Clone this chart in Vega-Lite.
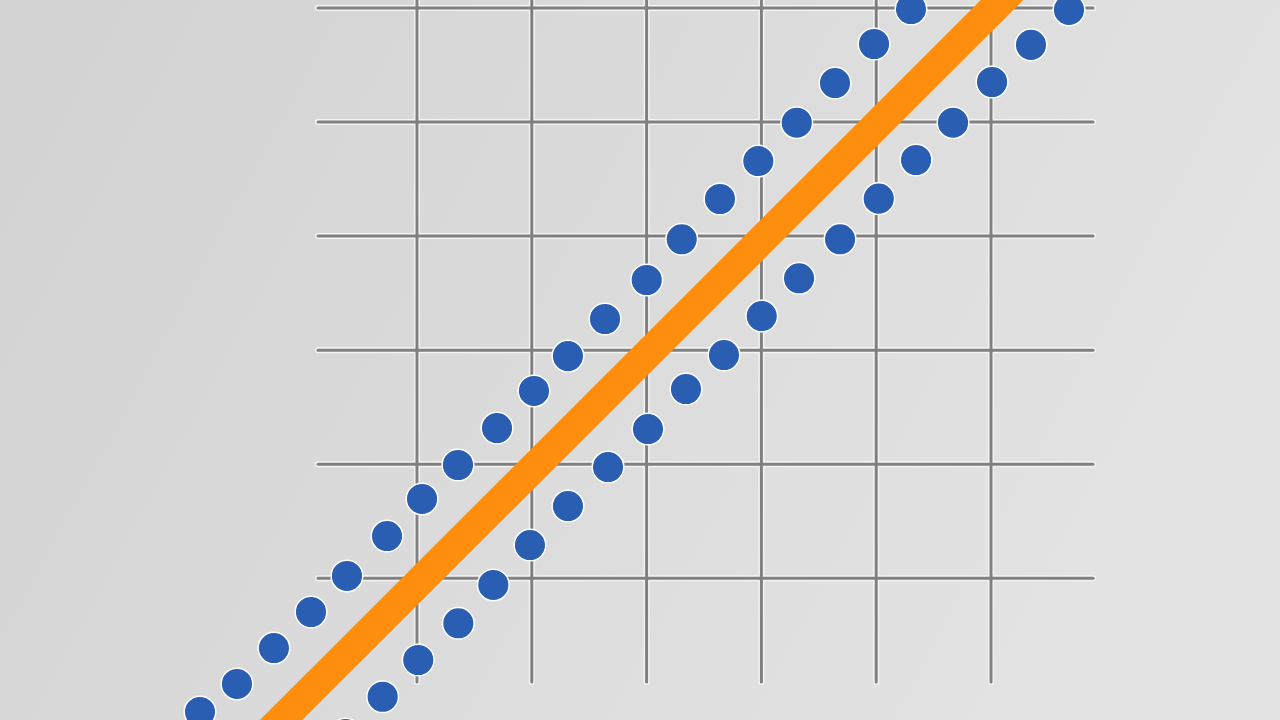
{
  "$schema": "https://vega.github.io/schema/vega-lite/v6.json",
  "width": 1280,
  "height": 720,
  "autosize": {"type": "fit", "contains": "padding"},
  "padding": 0,
  "background": "#dadada",
  "config": {"view": {"stroke": null}},
  "datasets": {
    "backdrop": [{"x": -2.632, "x2": 8.517, "y": -0.243, "y2": 6.07}],
    "hgrid": [
      {"y": 1, "x": 0.138, "x2": 6.889},
      {"y": 2, "x": 0.138, "x2": 6.889},
      {"y": 3, "x": 0.138, "x2": 6.889},
      {"y": 4, "x": 0.138, "x2": 6.889},
      {"y": 5, "x": 0.138, "x2": 6.889},
      {"y": 6, "x": 0.138, "x2": 6.889}
    ],
    "vgrid": [
      {"x": 1, "y": 0.09, "y2": 6.4},
      {"x": 2, "y": 0.09, "y2": 6.4},
      {"x": 3, "y": 0.09, "y2": 6.4},
      {"x": 4, "y": 0.09, "y2": 6.4},
      {"x": 5, "y": 0.09, "y2": 6.4},
      {"x": 6, "y": 0.09, "y2": 6.4}
    ],
    "fit": [
      {"x": -0.533, "y": -0.594},
      {"x": 6.444, "y": 6.42}
    ],
    "points": [
      {"row": "above", "x": -0.890, "y": -0.173},
      {"row": "above", "x": -0.568, "y": 0.073},
      {"row": "above", "x": -0.246, "y": 0.388},
      {"row": "above", "x": 0.077, "y": 0.704},
      {"row": "above", "x": 0.390, "y": 1.020},
      {"row": "above", "x": 0.739, "y": 1.370},
      {"row": "above", "x": 1.044, "y": 1.695},
      {"row": "above", "x": 1.357, "y": 1.993},
      {"row": "above", "x": 1.697, "y": 2.317},
      {"row": "above", "x": 2.019, "y": 2.642},
      {"row": "above", "x": 2.315, "y": 2.948},
      {"row": "above", "x": 2.638, "y": 3.273},
      {"row": "above", "x": 3.001, "y": 3.615},
      {"row": "above", "x": 3.306, "y": 3.972},
      {"row": "above", "x": 3.639, "y": 4.325},
      {"row": "above", "x": 3.973, "y": 4.658},
      {"row": "above", "x": 4.308, "y": 4.994},
      {"row": "above", "x": 4.641, "y": 5.342},
      {"row": "above", "x": 4.981, "y": 5.684},
      {"row": "above", "x": 5.303, "y": 5.991},
      {"row": "below", "x": 0.377, "y": -0.366},
      {"row": "below", "x": 0.701, "y": -0.039},
      {"row": "below", "x": 1.011, "y": 0.283},
      {"row": "below", "x": 1.360, "y": 0.605},
      {"row": "below", "x": 1.665, "y": 0.941},
      {"row": "below", "x": 1.984, "y": 1.291},
      {"row": "below", "x": 2.315, "y": 1.633},
      {"row": "below", "x": 2.664, "y": 1.975},
      {"row": "below", "x": 3.012, "y": 2.308},
      {"row": "below", "x": 3.343, "y": 2.659},
      {"row": "below", "x": 3.674, "y": 2.957},
      {"row": "below", "x": 4.003, "y": 3.299},
      {"row": "below", "x": 4.328, "y": 3.630},
      {"row": "below", "x": 4.685, "y": 3.972},
      {"row": "below", "x": 5.022, "y": 4.328},
      {"row": "below", "x": 5.347, "y": 4.667},
      {"row": "below", "x": 5.669, "y": 4.994},
      {"row": "below", "x": 6.009, "y": 5.351},
      {"row": "below", "x": 6.348, "y": 5.676},
      {"row": "below", "x": 6.679, "y": 5.983}
    ]
  },
  "encoding": {
    "x": {
      "field": "x",
      "type": "quantitative",
      "scale": {"domain": [-2.632, 8.517], "nice": false, "zero": false},
      "axis": null
    },
    "y": {
      "field": "y",
      "type": "quantitative",
      "scale": {"domain": [-0.243, 6.07], "nice": false, "zero": false},
      "axis": null
    }
  },
  "layer": [
    {
      "data": {"name": "backdrop"},
      "mark": {
        "type": "rect",
        "clip": true,
        "color": {
          "gradient": "linear",
          "x1": 0, "y1": 0, "x2": 1, "y2": 0.3,
          "stops": [
            {"offset": 0, "color": "#d2d2d2"},
            {"offset": 1, "color": "#e3e3e3"}
          ]
        }
      },
      "encoding": {
        "x2": {"field": "x2"},
        "y2": {"field": "y2"}
      }
    },
    {
      "data": {"name": "hgrid"},
      "mark": {"type": "rule", "clip": true, "color": "#f4f4f4", "strokeWidth": 6, "strokeCap": "round"},
      "encoding": {"x2": {"field": "x2"}}
    },
    {
      "data": {"name": "vgrid"},
      "mark": {"type": "rule", "clip": true, "color": "#f4f4f4", "strokeWidth": 6, "strokeCap": "round"},
      "encoding": {"y2": {"field": "y2"}}
    },
    {
      "data": {"name": "hgrid"},
      "mark": {"type": "rule", "clip": true, "color": "#808080", "strokeWidth": 3, "strokeCap": "round"},
      "encoding": {"x2": {"field": "x2"}}
    },
    {
      "data": {"name": "vgrid"},
      "mark": {"type": "rule", "clip": true, "color": "#808080", "strokeWidth": 3, "strokeCap": "round"},
      "encoding": {"y2": {"field": "y2"}}
    },
    {
      "data": {"name": "fit"},
      "mark": {"type": "line", "clip": true, "color": "#fd8e0e", "strokeWidth": 30, "strokeCap": "butt"},
      "encoding": {}
    },
    {
      "data": {"name": "points"},
      "mark": {
        "type": "point",
        "clip": true,
        "filled": true,
        "shape": "circle",
        "size": 1000,
        "color": "#2a5eb2",
        "opacity": 1,
        "stroke": "#ffffff",
        "strokeWidth": 1.5
      },
      "encoding": {"detail": {"field": "row", "type": "nominal"}}
    }
  ]
}
